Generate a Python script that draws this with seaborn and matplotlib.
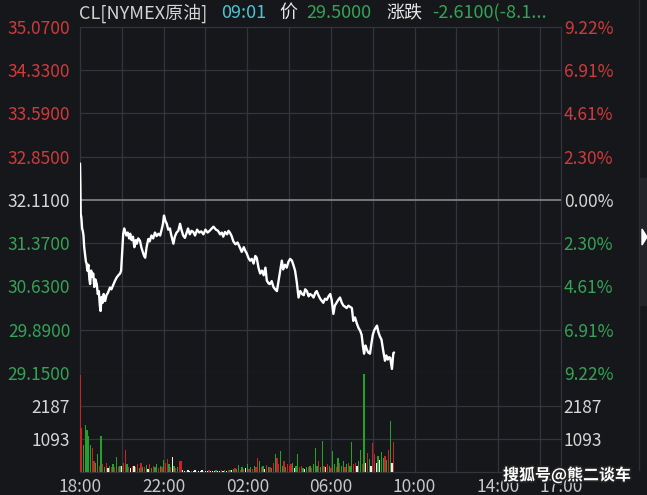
import numpy as np
import pandas as pd
import matplotlib.pyplot as plt
import seaborn as sns
from matplotlib import patheffects
from matplotlib.patches import Polygon, Rectangle

# Precio (minutos desde las 18:00)
price_t = [0, 1, 2, 4, 6, 8, 10, 12, 14, 17, 19, 21, 24, 27, 29, 32, 35, 38, 41, 44,
           48, 51, 54, 57, 59, 62, 65, 68, 72, 76, 80, 86, 90, 95, 100, 105, 110, 115, 118, 121,
           124, 127, 129, 133, 137, 141, 144, 148, 152, 156, 160, 163, 167, 172, 176, 180, 184, 187, 191, 196,
           200, 205, 210, 215, 220, 225, 230, 235, 238, 241, 245, 249, 253, 258, 262, 268, 272, 277, 282, 287,
           291, 296, 301, 306, 310, 315, 320, 325, 330, 336, 342, 348, 354, 360, 366, 372, 378, 383, 390, 396,
           402, 407, 411, 416, 422, 426, 430, 435, 440, 446, 452, 459, 464, 470, 474, 478, 483, 488, 493, 498,
           503, 507, 512, 517, 522, 527, 532, 536, 541, 545, 550, 555, 560, 565, 569, 574, 579, 583, 588, 593,
           598, 603, 608, 612, 617, 622, 627, 632, 637, 642, 646, 651, 656, 660, 665, 670, 675, 679, 684, 689,
           694, 698, 703, 708, 713, 718, 722, 727, 731, 736, 741, 746, 751, 756, 761, 765, 770, 775, 780, 784,
           789, 794, 799, 804, 808, 812, 815, 819, 823, 827, 832, 836, 840, 844, 848, 852, 856, 860, 865, 870,
           875, 879, 883, 887, 890, 893, 895, 897, 899, 901]
price = [32.73, 32.40, 31.87, 31.80, 31.62, 31.58, 31.50, 31.30, 31.20, 31.05, 31.02, 30.90, 31.00, 30.75, 30.67, 30.90, 30.80, 30.85, 30.62, 30.75,
         30.67, 30.50, 30.55, 30.30, 30.21, 30.45, 30.35, 30.50, 30.38, 30.48, 30.52, 30.61, 30.58, 30.65, 30.72, 30.78, 30.82, 30.85, 30.90, 31.20,
         31.53, 31.62, 31.58, 31.50, 31.55, 31.45, 31.53, 31.42, 31.48, 31.30, 31.42, 31.36, 31.45, 31.41, 31.30, 31.22, 31.15, 31.12, 31.30, 31.44,
         31.40, 31.50, 31.45, 31.55, 31.49, 31.53, 31.50, 31.62, 31.70, 31.84, 31.75, 31.70, 31.60, 31.62, 31.50, 31.36, 31.48, 31.55, 31.58, 31.70,
         31.60, 31.50, 31.46, 31.55, 31.62, 31.52, 31.58, 31.56, 31.50, 31.60, 31.55, 31.57, 31.52, 31.60, 31.55, 31.58, 31.62, 31.65, 31.60, 31.58,
         31.52, 31.55, 31.48, 31.56, 31.52, 31.58, 31.55, 31.49, 31.40, 31.35, 31.38, 31.29, 31.22, 31.30, 31.24, 31.20, 31.12, 31.07, 31.10, 31.02,
         31.15, 31.12, 30.95, 30.85, 30.90, 30.82, 30.95, 30.73, 30.68, 30.67, 30.72, 30.62, 30.58, 30.55, 30.70, 30.88, 31.07, 30.92, 31.00, 30.95,
         31.05, 31.10, 31.07, 31.00, 30.90, 30.70, 30.44, 30.55, 30.50, 30.48, 30.58, 30.55, 30.46, 30.50, 30.48, 30.44, 30.52, 30.55, 30.48, 30.42,
         30.38, 30.35, 30.42, 30.40, 30.46, 30.50, 30.40, 30.16, 30.30, 30.35, 30.40, 30.44, 30.35, 30.30, 30.28, 30.26, 30.30, 30.28, 30.26, 30.04,
         30.10, 30.00, 29.92, 29.87, 29.80, 29.60, 29.48, 29.62, 29.55, 29.50, 29.48, 29.65, 29.80, 29.88, 29.92, 29.96, 29.85, 29.78, 29.72, 29.53,
         29.36, 29.45, 29.38, 29.42, 29.41, 29.30, 29.22, 29.35, 29.49, 29.50]

# Volumen en bloques de 5 minutos y su color (r sube, g baja, w sin cambio)
volume = [3200, 1450, 900, 1560, 1400, 1200, 900, 800, 350, 300, 580, 200, 1200, 250, 150, 300, 120, 200, 150, 250,
          180, 500, 150, 200, 200, 300, 740, 250, 180, 120, 200, 200, 150, 250, 120, 300, 180, 150, 220, 100,
          250, 130, 200, 150, 250, 120, 200, 150, 400, 300, 420, 250, 150, 500, 200, 130, 150, 360, 370, 60,
          40, 30, 50, 20, 40, 30, 50, 20, 40, 30, 50, 20, 40, 30, 60, 30, 40, 20, 50, 30,
          40, 60, 30, 50, 40, 70, 60, 80, 90, 120, 100, 220, 80, 150, 100, 120, 260, 100, 150, 90,
          200, 150, 460, 350, 150, 200, 100, 240, 150, 180, 120, 300, 600, 460, 250, 680, 200, 350, 150, 250,
          200, 250, 300, 120, 200, 610, 150, 200, 130, 100, 180, 150, 200, 120, 250, 800, 200, 360, 150, 1020,
          200, 150, 250, 200, 130, 690, 250, 180, 470, 300, 200, 360, 150, 250, 300, 200, 980, 250, 300, 200,
          360, 740, 250, 3260, 300, 630, 420, 200, 960, 580, 300, 525, 400, 650, 450, 520, 400, 740, 1700, 300,
          980]
vol_dir = ("rrgggggrrggrgrgrwgrg"
           "rgrgwrrgrwrwgrgrgrgw"
           "rgrggrgrgrrgrwgrgrrw"
           "wrwwgwwrwwwgwwrwwwgw"
           "wrwgwrgwgrggrgrwgrgr"
           "grrgrgwrgrgrgrrggrgr"
           "rrgwggrrgwgrgrgggrgg"
           "rwrgrggrgrggrgrggrrw"
           "ggrgwrgwrrwgwggrgrgw"
           "r")

price_ticks = [35.07, 34.33, 33.59, 32.85, 32.11, 31.37, 30.63, 29.89, 29.15]
price_labels = ["35.0700", "34.3300", "33.5900", "32.8500", "32.1100", "31.3700", "30.6300", "29.8900", "29.1500"]
pct_labels = ["9.22%", "6.91%", "4.61%", "2.30%", "0.00%", "2.30%", "4.61%", "6.91%", "9.22%"]
label_side = ["up", "up", "up", "up", "flat", "down", "down", "down", "down"]
vol_ticks = [1093, 2187]
time_ticks = [0, 240, 480, 720, 960, 1200, 1380]
time_labels = ["18:00", "22:00", "02:00", "06:00", "10:00", "14:00", "17:00"]

df_price = pd.DataFrame({"t": price_t, "precio": price})
df_vol = pd.DataFrame({"t": np.arange(len(volume)) * 5, "vol": volume, "dir": list(vol_dir)})

bg = "#16171b"
grid = "#33353b"
red = "#cf3b3b"
green = "#35a355"
white = "#d6d6d6"
side_color = {"up": red, "flat": white, "down": green}
bar_color = {"r": "#cc2222", "g": "#22a22a", "w": "#eeeeee"}

sns.set_theme(style="dark", rc={"figure.facecolor": bg, "axes.facecolor": bg})
plt.rcParams["font.family"] = ["Noto Sans CJK SC", "DejaVu Sans"]

W, H = 647, 495
def box(x0, y0, x1, y1):
    return [x0 / W, 1 - y1 / H, (x1 - x0) / W, (y1 - y0) / H]

fig = plt.figure(figsize=(W / 100, H / 100), dpi=100)
ax_p = fig.add_axes(box(80, 26.6, 561, 373))
ax_v = fig.add_axes(box(80, 373, 561, 472), sharex=ax_p)

for ax in (ax_p, ax_v):
    ax.set_facecolor(bg)
    for s in ax.spines.values():
        s.set_visible(False)
    for xv in list(range(0, 1381, 120)) + [1380]:
        ax.axvline(xv, color=grid, lw=0.9, zorder=0, clip_on=False)

# Grafica del precio
sns.lineplot(data=df_price, x="t", y="precio", ax=ax_p, color="white", lw=1.7, sort=False, zorder=5)
ax_p.set_xlim(0, 1380)
ax_p.set_ylim(29.15, 35.07)
for yv in price_ticks:
    if yv == 32.11:
        ax_p.axhline(yv, color="#77787c", lw=1.4, zorder=1)
    else:
        ax_p.axhline(yv, color=grid, lw=0.9, zorder=0, clip_on=False)
ax_p.set_yticks(price_ticks)
ax_p.set_yticklabels(price_labels)
ax_p.tick_params(axis="y", length=0, pad=7, labelsize=12.5)
ax_p.tick_params(axis="x", length=0, labelbottom=False)
for lab, side in zip(ax_p.get_yticklabels(), label_side):
    lab.set_color(side_color[side])
ax_p.set_xlabel("")
ax_p.set_ylabel("")

ax_pr = ax_p.twinx()
ax_pr.set_ylim(29.15, 35.07)
ax_pr.set_yticks(price_ticks)
ax_pr.set_yticklabels(pct_labels)
ax_pr.tick_params(axis="y", length=0, pad=2, labelsize=12.5)
for lab, side in zip(ax_pr.get_yticklabels(), label_side):
    lab.set_color(side_color[side])
for s in ax_pr.spines.values():
    s.set_visible(False)
ax_pr.grid(False)

# Barras de volumen
ax_v.bar(df_vol["t"], df_vol["vol"], width=3.6, color=[bar_color[d] for d in df_vol["dir"]],
         linewidth=0, zorder=3)
ax_v.set_ylim(0, 3280)
for yv in vol_ticks + [0]:
    ax_v.axhline(yv, color=grid, lw=0.9, zorder=0, clip_on=False)
ax_v.set_yticks(vol_ticks)
ax_v.set_yticklabels([str(v) for v in vol_ticks])
ax_v.tick_params(axis="y", length=0, pad=7, labelsize=12.5, labelcolor=white)
ax_v.set_xticks(time_ticks)
ax_v.set_xticklabels(time_labels)
ax_v.tick_params(axis="x", length=0, pad=4, labelsize=12.5, labelcolor="#c8c8c8")

ax_vr = ax_v.twinx()
ax_vr.set_ylim(0, 3280)
ax_vr.set_yticks(vol_ticks)
ax_vr.set_yticklabels([str(v) for v in vol_ticks])
ax_vr.tick_params(axis="y", length=0, pad=2, labelsize=12.5, labelcolor=white)
for s in ax_vr.spines.values():
    s.set_visible(False)
ax_vr.grid(False)

# Titulo en partes
title_parts = [("CL[NYMEX原油]", 79, "#d4d4d4"), ("09:01", 221, "#4cc4d4"), ("价", 279, "#e6e6e6"),
               ("29.5000", 306, green), ("涨跌", 386, "#e6e6e6"), ("-2.6100(-8.1...", 432, green)]
for txt, xp, col in title_parts:
    fig.text(xp / W, 1 - 13 / H, txt, color=col, fontsize=13, ha="left", va="center")

# Panel derecho
fig.add_artist(plt.Line2D([639 / W, 639 / W], [1 - 470 / H, 1], color="#2a2c31", lw=1))
fig.add_artist(Rectangle((640 / W, 1 - 305 / H), 7 / W, 127 / H, transform=fig.transFigure,
                         color="#22242a", zorder=0))
fig.add_artist(Polygon([[642 / W, 1 - 229 / H], [642 / W, 1 - 245 / H], [647 / W, 1 - 237 / H]],
                       closed=True, transform=fig.transFigure, color="white"))

# Marca de agua (tapa parte de la etiqueta 17:00 como en el original)
fig.text(567 / W, 1 - 475 / H, "搜狐号@熊二谈车", color="white", fontsize=11.5, fontweight="bold",
         ha="center", va="center",
         path_effects=[patheffects.withStroke(linewidth=2.5, foreground="#222222")])

fig.savefig("out.png", dpi=100, facecolor=bg)
